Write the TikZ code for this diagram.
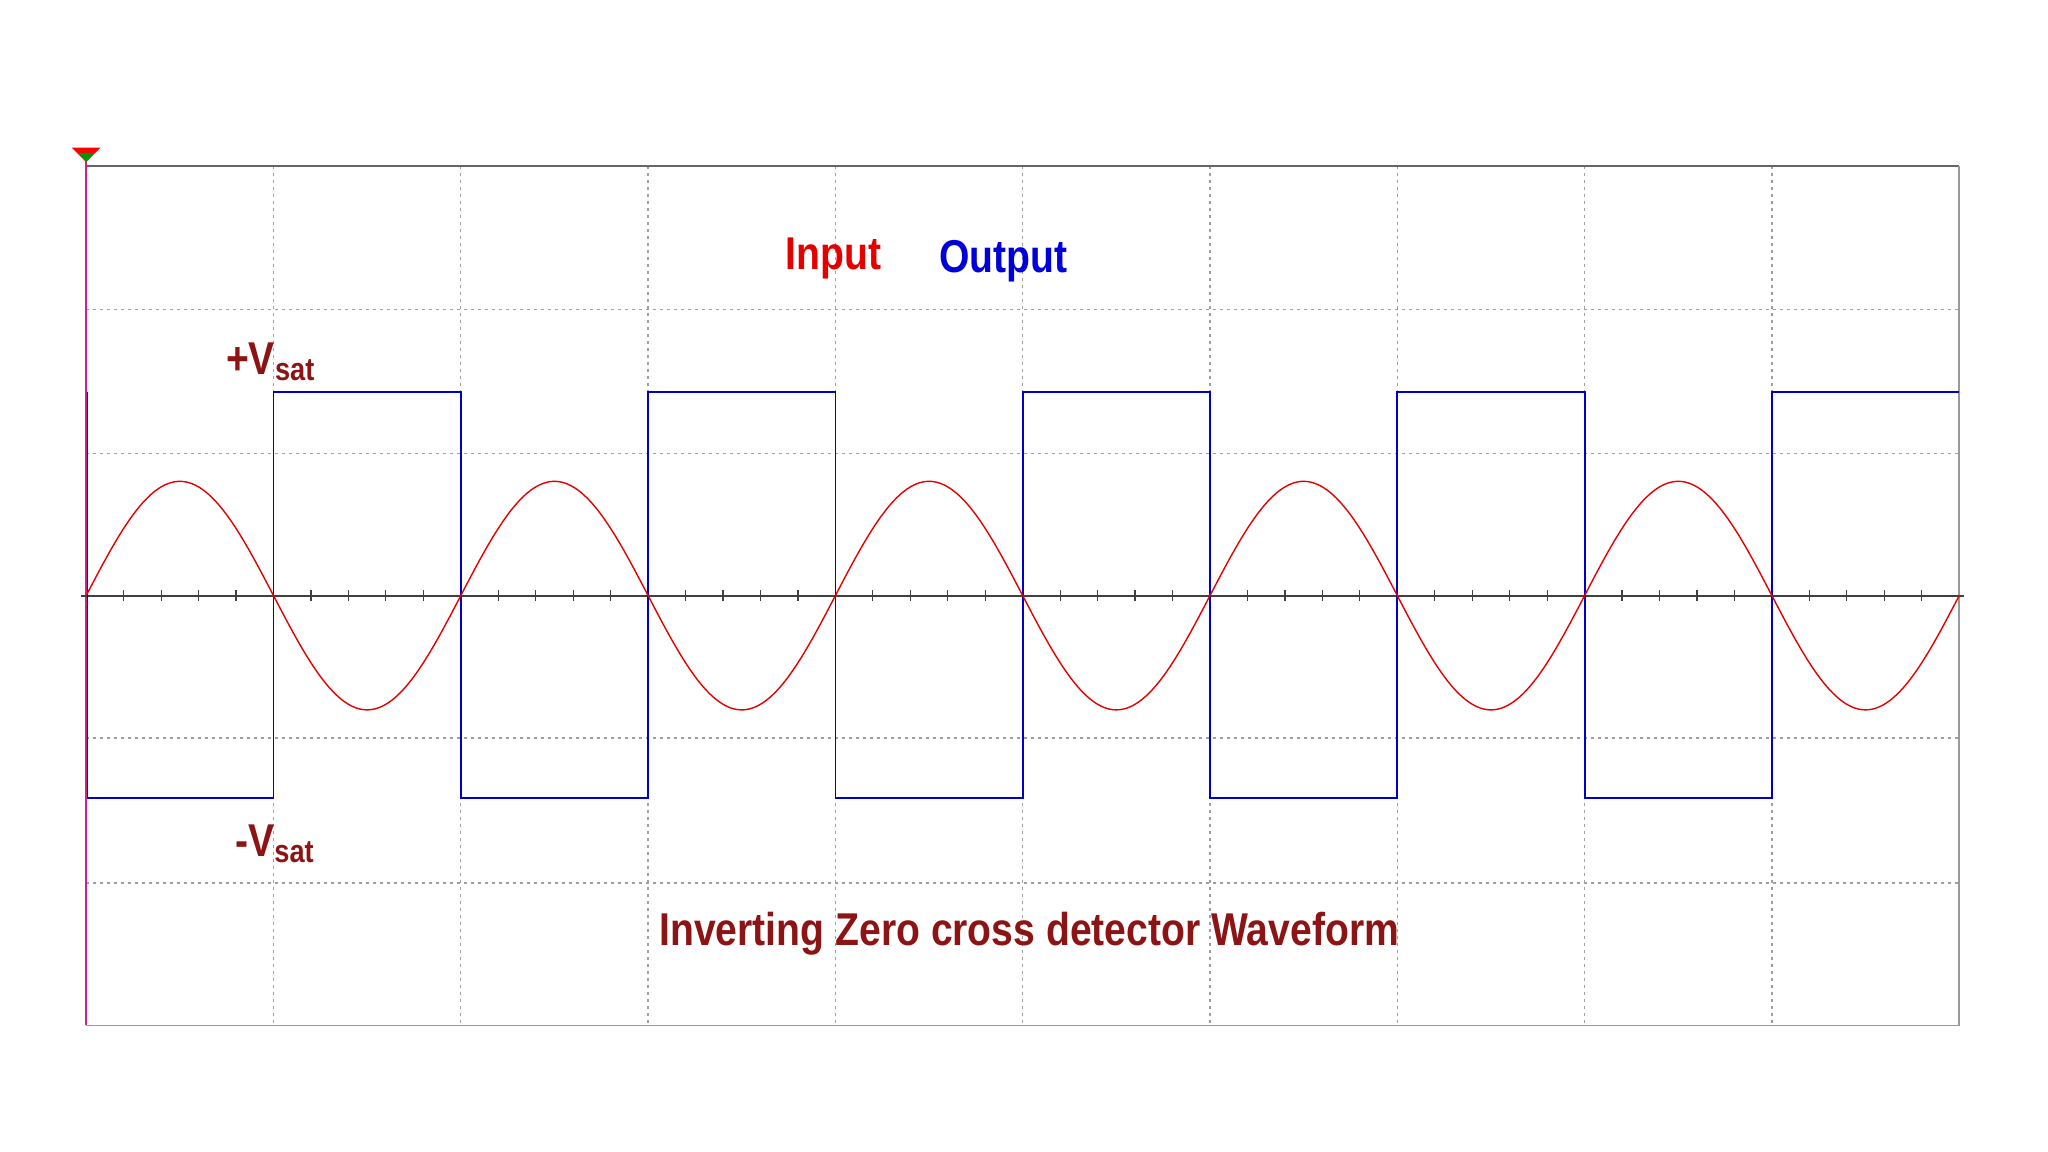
\documentclass[tikz,border=0pt]{standalone}
\usepackage{fontspec}
\setmainfont{Liberation Sans}
\begin{document}
\begin{tikzpicture}[x=1.306pt,y=-1.306pt,
  grid/.style={gray!75,line width=1.3pt,dash pattern=on 3pt off 4pt},
  lbl/.style={font=\bfseries\fontsize{46}{48}\selectfont,xscale=0.85,inner sep=0pt},
  dred/.style={text={rgb,255:red,140;green,20;blue,20}}]
\useasboundingbox (0,0) rectangle (1568,882);
% grid
\foreach \k in {1,...,9} \draw[grid] ({66+143.4*\k},127) -- ({66+143.4*\k},785);
\foreach \y in {237,347,565,676} \draw[grid] (66,\y) -- (1500,\y);
% frame
\draw[gray!80!black,line width=2pt] (66,127) -- (1500,127);
\draw[gray!80,line width=1.5pt] (1500,127) -- (1500,785) -- (66,785);
\draw[magenta!70!violet,line width=1.5pt] (66,118) -- (66,785);
\fill[red] (55,113) -- (77,113) -- (66,124) -- cycle;
\fill[green!60!black] (60,117) -- (72,117) -- (66,124) -- cycle;
% axis
\draw[black!75,line width=2pt] (62,456) -- (1504,456);
\foreach \k in {1,...,49} \draw[black!75,line width=1.2pt] ({66+28.68*\k},452) -- ({66+28.68*\k},460);
% output
\draw[blue!80!black,line width=1.8pt] (67,300) -- (67,611)
  \foreach \k in {1,...,9} {
    -- ({66+143.4*\k}, {mod(\k,2)==1 ? 611 : 300}) -- ({66+143.4*\k}, {mod(\k,2)==1 ? 300 : 611})
  } -- (1500,300);
% input
\draw[red!90!black,line width=1.4pt] plot[domain=66:1500,samples=300,smooth] (\x,{456-87.5*sin((\x-66)/286.8*360)});
% labels
\node[lbl,text=red!90!black] (in) at (638,198) {Input};
\node[lbl,text=blue!85!black] (out) at (768,200) {Output};
\node[lbl,dred,anchor=base west] (vp) at (173,287) {+V\raisebox{-0.25ex}{\fontsize{32}{34}\selectfont sat}};
\node[lbl,dred,anchor=base west] (vm) at (180,656) {-V\raisebox{-0.25ex}{\fontsize{32}{34}\selectfont sat}};
\node[lbl,dred] (t) at (788,715) {Inverting Zero cross detector Waveform};
\end{tikzpicture}
\end{document}
